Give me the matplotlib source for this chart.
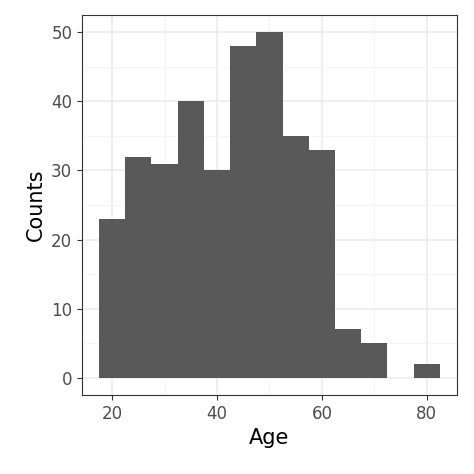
import matplotlib.pyplot as plt
import numpy as np

bin_edges = [17.5, 22.5, 27.5, 32.5, 37.5, 42.5, 47.5, 52.5, 57.5, 62.5, 67.5, 72.5, 77.5, 82.5]
counts = [23, 32, 31, 40, 30, 48, 50, 35, 33, 7, 5, 0, 2]

fig = plt.figure(figsize=(4.74, 4.74), dpi=100)
ax = fig.add_axes([0.173, 0.167, 0.791, 0.801])

lefts = np.array(bin_edges[:-1])
widths = np.diff(bin_edges)
ax.bar(lefts, counts, width=widths, align='edge', color='#595959', linewidth=0, zorder=3)

ax.set_xlim(14.25, 85.75)
ax.set_ylim(-2.5, 52.5)
ax.set_xticks([20, 40, 60, 80])
ax.set_yticks([0, 10, 20, 30, 40, 50])
ax.set_xticks([30, 50, 70], minor=True)
ax.set_yticks([5, 15, 25, 35, 45], minor=True)
ax.grid(which='major', color='#EBEBEB', linewidth=1.1, zorder=0)
ax.grid(which='minor', color='#F3F3F3', linewidth=0.6, zorder=0)
ax.tick_params(which='minor', length=0)
ax.tick_params(which='major', length=3.5, color='#333333', labelsize=12, labelcolor='#4D4D4D')
for s in ax.spines.values():
    s.set_color('#333333')
    s.set_linewidth(0.8)

ax.set_xlabel('Age', fontsize=15)
ax.set_ylabel('Counts', fontsize=15)

fig.savefig('out.png', dpi=100)
